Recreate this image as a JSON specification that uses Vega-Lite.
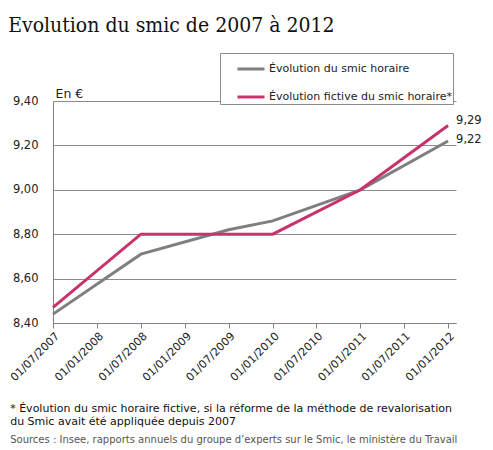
{
  "$schema": "https://vega.github.io/schema/vega-lite/v6.json",
  "description": "Evolution du smic de 2007 a 2012",
  "padding": {"left": 8, "top": 14, "right": 5, "bottom": 5},
  "title": {
    "text": "Evolution du smic de 2007 à 2012",
    "anchor": "start",
    "font": "'DejaVu Serif Condensed', 'DejaVu Serif'",
    "fontSize": 21,
    "fontWeight": "normal",
    "color": "#111111",
    "offset": 17
  },
  "config": {
    "locale": {"number": {"decimal": ",", "thousands": " ", "grouping": [3], "currency": ["", " €"]}},
    "font": "DejaVu Sans",
    "view": {"stroke": null}
  },
  "vconcat": [
    {
      "width": 403,
      "height": 222,
      "title": {
        "text": ["* Évolution du smic horaire fictive, si la réforme de la méthode de revalorisation", "du Smic avait été appliquée depuis 2007"],
        "subtitle": "Sources : Insee, rapports annuels du groupe d’experts sur le Smic, le ministère du Travail",
        "orient": "bottom",
        "anchor": "start",
        "font": "DejaVu Sans",
        "fontSize": 11,
        "fontWeight": "normal",
        "color": "#111111",
        "lineHeight": 13,
        "subtitleFont": "DejaVu Sans",
        "subtitleFontSize": 10,
        "subtitleColor": "#555555",
        "subtitlePadding": 8,
        "offset": 20,
        "dx": 2
      },
      "data": {
        "values": [
          {"date": "2007-07-01", "serie": "Évolution du smic horaire", "valeur": 8.44},
          {"date": "2008-07-01", "serie": "Évolution du smic horaire", "valeur": 8.71},
          {"date": "2009-07-01", "serie": "Évolution du smic horaire", "valeur": 8.82},
          {"date": "2010-01-01", "serie": "Évolution du smic horaire", "valeur": 8.86},
          {"date": "2011-01-01", "serie": "Évolution du smic horaire", "valeur": 9.00},
          {"date": "2012-01-01", "serie": "Évolution du smic horaire", "valeur": 9.22},
          {"date": "2007-07-01", "serie": "Évolution fictive du smic horaire*", "valeur": 8.47},
          {"date": "2008-07-01", "serie": "Évolution fictive du smic horaire*", "valeur": 8.80},
          {"date": "2009-07-01", "serie": "Évolution fictive du smic horaire*", "valeur": 8.80},
          {"date": "2010-01-01", "serie": "Évolution fictive du smic horaire*", "valeur": 8.80},
          {"date": "2011-01-01", "serie": "Évolution fictive du smic horaire*", "valeur": 9.00},
          {"date": "2012-01-01", "serie": "Évolution fictive du smic horaire*", "valeur": 9.29}
        ]
      },
      "encoding": {
        "x": {
          "field": "date",
          "type": "temporal",
          "scale": {
            "type": "utc",
            "domain": [
              {"year": 2007, "month": 7, "date": 1, "utc": true},
              {"year": 2012, "month": 2, "date": 3, "utc": true}
            ]
          },
          "axis": {
            "title": null,
            "format": "%d/%m/%Y",
            "values": [
              {"year": 2007, "month": 7, "date": 1, "utc": true},
              {"year": 2008, "month": 1, "date": 1, "utc": true},
              {"year": 2008, "month": 7, "date": 1, "utc": true},
              {"year": 2009, "month": 1, "date": 1, "utc": true},
              {"year": 2009, "month": 7, "date": 1, "utc": true},
              {"year": 2010, "month": 1, "date": 1, "utc": true},
              {"year": 2010, "month": 7, "date": 1, "utc": true},
              {"year": 2011, "month": 1, "date": 1, "utc": true},
              {"year": 2011, "month": 7, "date": 1, "utc": true},
              {"year": 2012, "month": 1, "date": 1, "utc": true}
            ],
            "labelAngle": -45,
            "labelAlign": "right",
            "labelBaseline": "top",
            "labelFontSize": 11,
            "labelColor": "#222222",
            "labelPadding": 2,
            "labelOverlap": false,
            "labelFlush": false,
            "grid": false,
            "domainColor": "#808080",
            "tickColor": "#808080",
            "tickSize": 5
          }
        },
        "y": {
          "field": "valeur",
          "type": "quantitative",
          "scale": {"domain": [8.4, 9.4], "nice": false, "zero": false},
          "axis": {
            "title": "En €",
            "titleAngle": 0,
            "titleAlign": "left",
            "titleBaseline": "alphabetic",
            "titleX": 2,
            "titleY": -4,
            "titleFontSize": 12.5,
            "titleFontWeight": "normal",
            "titleColor": "#222222",
            "values": [8.4, 8.6, 8.8, 9.0, 9.2, 9.4],
            "format": ".2f",
            "labelFontSize": 11.5,
            "labelColor": "#222222",
            "labelPadding": 15,
            "ticks": false,
            "domainColor": "#808080",
            "gridColor": "#8c8c8c",
            "gridOpacity": 1
          }
        }
      },
      "layer": [
        {
          "mark": {"type": "line", "strokeWidth": 3},
          "encoding": {
            "color": {
              "field": "serie",
              "type": "nominal",
              "scale": {
                "domain": ["Évolution du smic horaire", "Évolution fictive du smic horaire*"],
                "range": ["#7f7f7f", "#c8336e"]
              },
              "legend": {
                "title": null,
                "orient": "none",
                "legendX": 167,
                "legendY": -48,
                "fillColor": "white",
                "strokeColor": "#8c8c8c",
                "padding": 1,
                "symbolOffset": 15,
                "symbolType": "stroke",
                "symbolSize": 729,
                "symbolStrokeWidth": 3,
                "labelFontSize": 11,
                "labelColor": "#222222",
                "labelOffset": 3,
                "labelLimit": 300,
                "labelExpr": "datum.label + '\u00a0'",
                "rowPadding": 7
              }
            }
          }
        },
        {
          "transform": [
            {"filter": "datum.serie === 'Évolution fictive du smic horaire*' && year(datum.date) === 2012"}
          ],
          "mark": {"type": "text", "align": "left", "dx": 8, "dy": -4, "fontSize": 11.5, "color": "#222222"},
          "encoding": {"text": {"field": "valeur", "type": "quantitative", "format": ".2f"}}
        },
        {
          "transform": [
            {"filter": "datum.serie === 'Évolution du smic horaire' && year(datum.date) === 2012"}
          ],
          "mark": {"type": "text", "align": "left", "dx": 8, "dy": -1, "fontSize": 11.5, "color": "#222222"},
          "encoding": {"text": {"field": "valeur", "type": "quantitative", "format": ".2f"}}
        }
      ]
    }
  ]
}
